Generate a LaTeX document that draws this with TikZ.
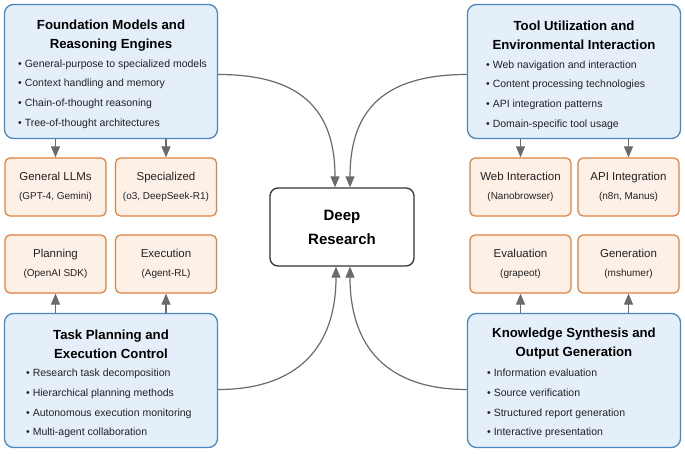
\documentclass[tikz,border=0pt]{standalone}
\usepackage{fontspec}
\setmainfont{Liberation Sans}
\usetikzlibrary{arrows.meta}
\definecolor{blueline}{HTML}{4A87C2}
\definecolor{bluefill}{HTML}{E4EFFA}
\definecolor{orangeline}{HTML}{E0813F}
\definecolor{orangefill}{HTML}{FDF1E7}
\definecolor{arrowgray}{HTML}{6A6A6A}
\definecolor{textgray}{HTML}{222222}
\newcommand{\subline}{\fontsize{10}{19.5}\selectfont}
\begin{document}
\begin{tikzpicture}[x=1pt, y=-1pt,
  bigbox/.style={draw=blueline, line width=1.3pt, fill=bluefill, rounded corners=9pt,
    minimum width=213pt, minimum height=134pt, inner sep=0pt},
  smallbox/.style={draw=orangeline, line width=1.2pt, fill=orangefill, rounded corners=5pt,
    minimum width=101pt, minimum height=58pt, inner sep=0pt, align=center, text=textgray,
    font=\fontsize{11.5}{19.5}\selectfont},
  mainbox/.style={draw=black!80, line width=1.3pt, fill=white, rounded corners=8pt,
    minimum width=144pt, minimum height=78pt, align=center,
    font=\bfseries\fontsize{15}{24}\selectfont},
  heading/.style={align=center, inner sep=0pt, font=\bfseries\fontsize{13.2}{19}\selectfont},
  items/.style={anchor=west, align=left, inner sep=0pt, text=textgray,
    font=\fontsize{10.5}{19.6}\selectfont},
  link/.style={draw=arrowgray, line width=1.2pt, -{Triangle[length=11pt,width=9pt]}}]
  \useasboundingbox (0,0) rectangle (685,454);
  % center
  \node[mainbox] (deep) at (342,227) {Deep\\Research};
  % foundation models
  \node[bigbox] (found) at (111,71.5) {};
  \node[heading] (foundT) at (111,35.5) {Foundation Models and\\Reasoning Engines};
  \node[items] (foundL) at (18,94) {• General-purpose to specialized models\\• Context handling and memory\\• Chain-of-thought reasoning\\• Tree-of-thought architectures};
  \node[smallbox] (llm) at (55.5,187) {General LLMs\\{\subline (GPT-4, Gemini)}};
  \node[smallbox] (spec) at (166,187) {Specialized\\{\subline (o3, DeepSeek-R1)}};
  \draw[link] (llm.north |- found.south) -- (llm);
  \draw[link] (spec.north |- found.south) -- (spec);
  % task planning
  \node[bigbox] (task) at (111,380.5) {};
  \node[heading] (taskT) at (111,344) {Task Planning and\\Execution Control};
  \node[items] (taskL) at (26,403.5) {• Research task decomposition\\• Hierarchical planning methods\\• Autonomous execution monitoring\\• Multi-agent collaboration};
  \node[smallbox] (plan) at (55.5,264) {Planning\\{\subline (OpenAI SDK)}};
  \node[smallbox] (exec) at (166,264) {Execution\\{\subline (Agent-RL)}};
  \draw[link] (plan.south |- task.north) -- (plan);
  \draw[link] (exec.south |- task.north) -- (exec);
  % tool utilization
  \node[bigbox] (tool) at (574,71.5) {};
  \node[heading] (toolT) at (574,35.5) {Tool Utilization and\\Environmental Interaction};
  \node[items] (toolL) at (486,95) {• Web navigation and interaction\\• Content processing technologies\\• API integration patterns\\• Domain-specific tool usage};
  \node[smallbox] (web) at (520.5,187) {Web Interaction\\{\subline (Nanobrowser)}};
  \node[smallbox] (api) at (628.5,187) {API Integration\\{\subline (n8n, Manus)}};
  \draw[link] (web.north |- tool.south) -- (web);
  \draw[link] (api.north |- tool.south) -- (api);
  % knowledge synthesis
  \node[bigbox] (know) at (574,380.5) {};
  \node[heading] (knowT) at (574,344) {Knowledge Synthesis and\\Output Generation};
  \node[items] (knowL) at (487,403.5) {• Information evaluation\\• Source verification\\• Structured report generation\\• Interactive presentation};
  \node[smallbox] (eval) at (520.5,264) {Evaluation\\{\subline (grapeot)}};
  \node[smallbox] (gen) at (628.5,264) {Generation\\{\subline (mshumer)}};
  \draw[link] (eval.south |- know.north) -- (eval);
  \draw[link] (gen.south |- know.north) -- (gen);
  % curves to the center
  \draw[link] ([yshift=-3pt]found.east) .. controls +(80,0) and +(0,-80) .. ([xshift=-7pt]deep.north);
  \draw[link] ([yshift=-3pt]tool.west) .. controls +(-80,0) and +(0,-80) .. ([xshift=8pt]deep.north);
  \draw[link] ([yshift=-9pt]task.east) .. controls +(80,0) and +(0,80) .. ([xshift=-6pt]deep.south);
  \draw[link] ([yshift=-9pt]know.west) .. controls +(-80,0) and +(0,80) .. ([xshift=8pt]deep.south);
\end{tikzpicture}
\end{document}
